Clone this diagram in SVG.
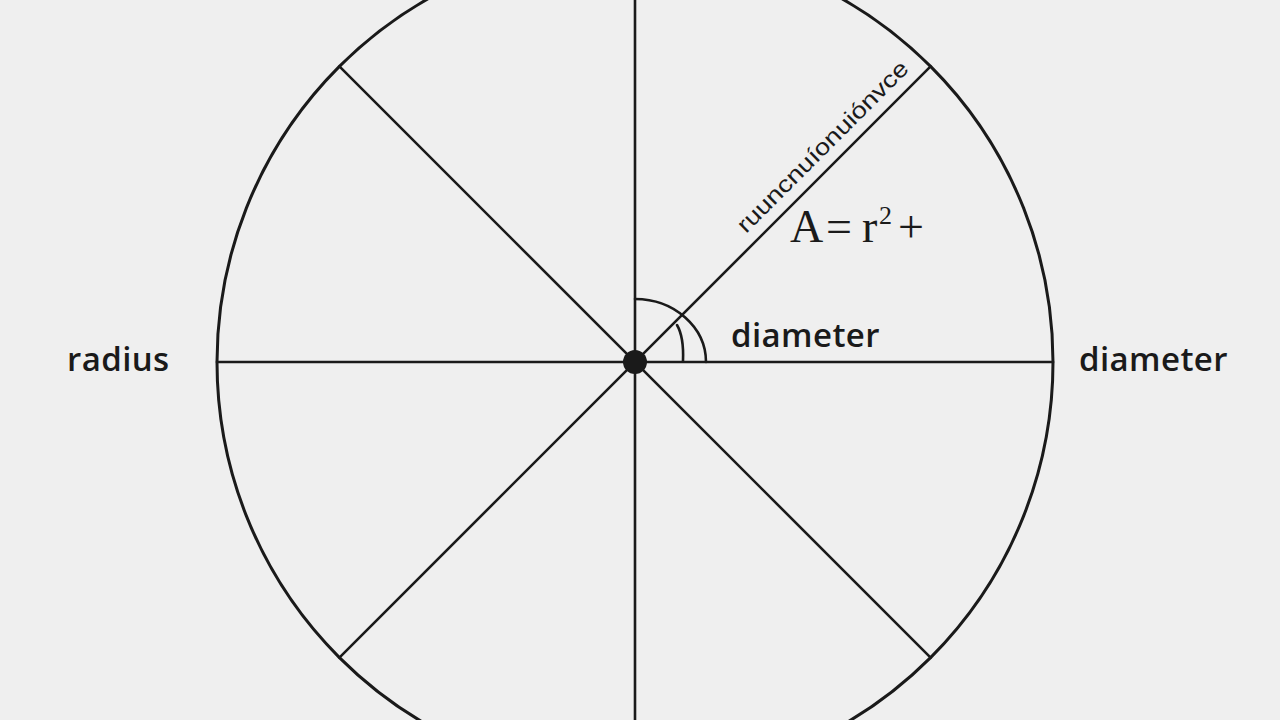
<svg xmlns="http://www.w3.org/2000/svg" width="1280" height="720" viewBox="0 0 1280 720">
<style>
.ln{stroke:#1a1a1a;stroke-width:2.6;fill:none;stroke-linecap:round}
.lbl{font-family:"Open Sans","Liberation Sans",sans-serif;font-weight:600;font-size:33px;letter-spacing:0.4px;fill:#1a1a1a}
.f{font-family:"Liberation Serif",serif;font-size:46px;fill:#1a1a1a}
.sup{font-family:"Liberation Serif",serif;font-size:26px;fill:#1a1a1a}
</style>
<rect width="1280" height="720" fill="#efefef"/>
<g id="circle"><circle cx="635" cy="362" r="418" fill="none" stroke="#1a1a1a" stroke-width="3"/></g>
<g id="connectors">
<line class="ln" x1="635" y1="-60" x2="635" y2="780"/>
<line class="ln" x1="217" y1="362" x2="1053" y2="362"/>
<line class="ln" x1="339.4" y1="66.4" x2="930.6" y2="657.6"/>
<line class="ln" x1="930.6" y1="66.4" x2="339.4" y2="657.6"/>
<path class="ln" d="M635,299 A71,63 0 0 1 706,362"/>
<path class="ln" d="M677,325 Q684,337 683,361" stroke-width="2"/>
</g>
<g id="center"><circle cx="635" cy="362" r="12" fill="#1a1a1a"/></g>
<g id="label-radius"><text class="lbl" x="67" y="371">radius</text></g>
<g id="label-diameter-right"><text class="lbl" x="1079" y="371">diameter</text></g>
<g id="label-diameter-inner"><text class="lbl" x="731" y="347">diameter</text></g>
<g id="label-diagonal"><text transform="translate(746,234) rotate(-45)" font-family="Liberation Sans,sans-serif" font-size="23" fill="#1a1a1a" textLength="232" lengthAdjust="spacingAndGlyphs">ruuncnuíonuiónvce</text></g>
<g id="formula">
<text class="f" x="790" y="242">A</text>
<text class="f" x="826" y="242">=</text>
<text class="f" x="862" y="242">r</text>
<text class="sup" x="879" y="224">2</text>
<text class="f" x="898" y="242">+</text>
</g>
</svg>
